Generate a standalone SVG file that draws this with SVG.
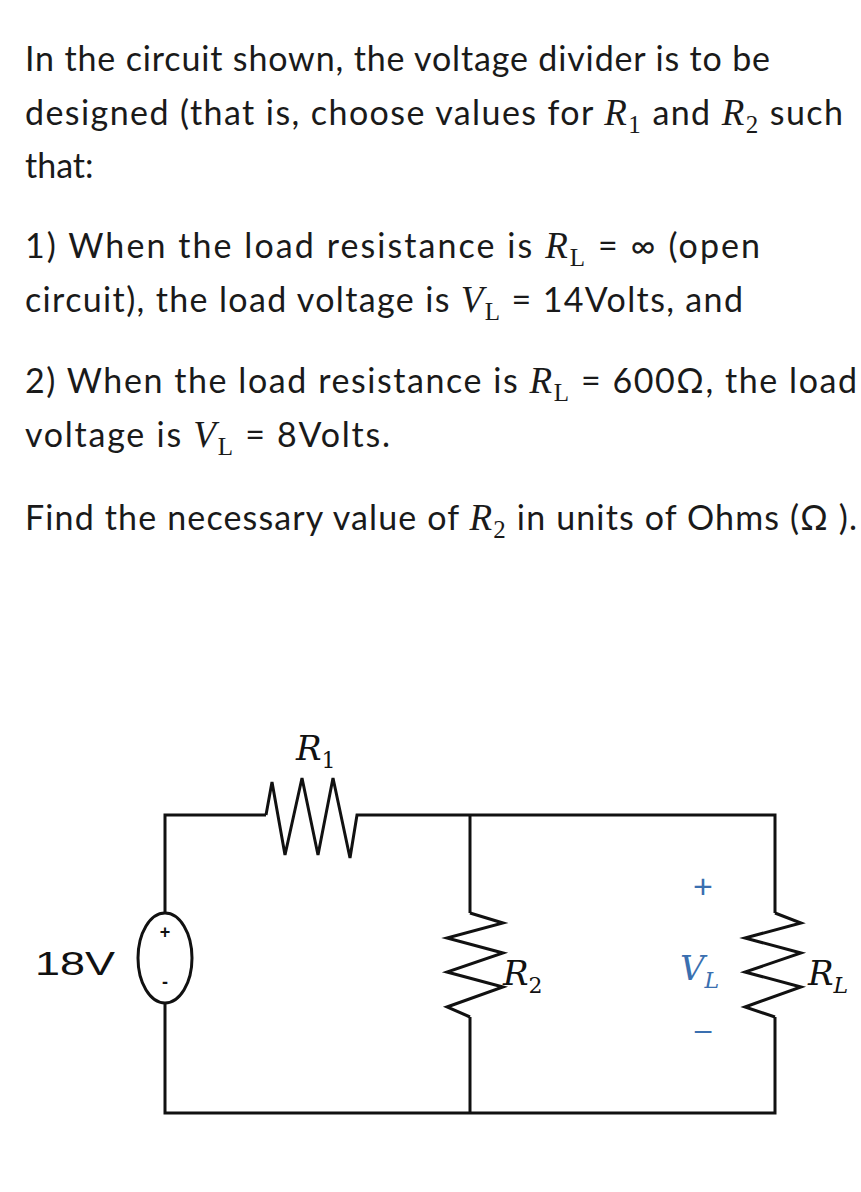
<svg xmlns="http://www.w3.org/2000/svg" width="861" height="1192" viewBox="0 0 861 1192">
<style>
.t{font-family:Lato,"Open Sans",sans-serif;font-size:34px;fill:#1a1a1a}
.m{font-family:"Liberation Serif",serif;font-style:italic;font-size:37px}
.s{font-family:"Liberation Serif",serif;font-style:normal;font-size:25px}
.w{fill:none;stroke:#111;stroke-width:3;stroke-linejoin:miter}
.c{font-family:"DejaVu Serif",serif;font-style:italic;font-size:34px;fill:#111}
.b{fill:#3a6fb0}
</style>
<rect width="861" height="1192" fill="#fff"/>
<g id="text">
<text class="t" x="25" y="71" textLength="745">In the circuit shown, the voltage divider is to be</text>
<text class="t" x="25" y="125" textLength="818">designed (that is, choose values for <tspan class="m">R</tspan><tspan class="s" dy="8">1</tspan><tspan dy="-8"> and </tspan><tspan class="m">R</tspan><tspan class="s" dy="8">2</tspan><tspan dy="-8"> such</tspan></text>
<text class="t" x="25" y="178">that:</text>
<text class="t" x="25" y="258" textLength="735">1) When the load resistance is <tspan class="m">R</tspan><tspan class="s" font-style="italic" dy="8">L</tspan><tspan dy="-8">  =  ∞ (open</tspan></text>
<text class="t" x="25" y="312" textLength="718">circuit), the load voltage is <tspan class="m">V</tspan><tspan class="s" font-style="italic" dy="8">L</tspan><tspan dy="-8">  =  14Volts, and</tspan></text>
<text class="t" x="25" y="393" textLength="832">2) When the load resistance is <tspan class="m">R</tspan><tspan class="s" font-style="italic" dy="8">L</tspan><tspan dy="-8">  =  600Ω, the load</tspan></text>
<text class="t" x="25" y="447" textLength="365">voltage is <tspan class="m">V</tspan><tspan class="s" font-style="italic" dy="8">L</tspan><tspan dy="-8">  =  8Volts.</tspan></text>
<text class="t" x="25" y="530" textLength="832">Find the necessary value of <tspan class="m">R</tspan><tspan class="s" dy="8">2</tspan><tspan dy="-8"> in units of Ohms (Ω ).</tspan></text>
</g>
<g id="connectors">
<polyline class="w" points="165,913 165,815 266,815"/>
<polyline class="w" points="368,815 775,815 775,913"/>
<line class="w" x1="470" y1="815" x2="470" y2="913"/>
<polyline class="w" points="165,1003 165,1113 775,1113 775,1017"/>
<line class="w" x1="470" y1="1017" x2="470" y2="1113"/>
</g>
<g id="source">
<ellipse class="w" cx="165" cy="958" rx="27" ry="45"/>
<text x="165" y="938" font-family="Liberation Sans,sans-serif" font-size="18" font-weight="bold" text-anchor="middle" fill="#111">+</text>
<text x="165" y="988" font-family="Liberation Sans,sans-serif" font-size="18" font-weight="bold" text-anchor="middle" fill="#111">-</text>
<text x="35" y="975" font-family="'Liberation Sans Narrow',sans-serif" font-size="34" textLength="80" lengthAdjust="spacingAndGlyphs" fill="#111">18V</text>
</g>
<g id="R1">
<polyline class="w" points="266,815 272,782 285,855 302,778 318,855 333,778 350,858 357,815 368,815"/>
<text class="c" x="296" y="760">R<tspan font-size="22" font-style="normal" dy="8">1</tspan></text>
</g>
<g id="R2">
<polyline class="w" points="470,913 503,923 447,938 503,953 447,972 503,987 447,1007 470,1017"/>
<text class="c" x="503" y="985">R<tspan font-size="22" font-style="normal" dy="8">2</tspan></text>
</g>
<g id="RL">
<polyline class="w" points="775,913 801,923 745,938 801,953 745,972 801,987 745,1007 775,1017"/>
<text class="c" x="808" y="985">R<tspan font-size="22" dy="8">L</tspan></text>
</g>
<g id="VL">
<text class="b" x="703" y="898" font-family="Liberation Sans,sans-serif" font-size="34" text-anchor="middle">+</text>
<text class="c b" x="680" y="980" style="fill:#3a6fb0">V<tspan font-size="22" dy="8">L</tspan></text>
<text class="b" x="703" y="1040" font-family="Liberation Sans,sans-serif" font-size="30" text-anchor="middle">–</text>
</g>
</svg>
